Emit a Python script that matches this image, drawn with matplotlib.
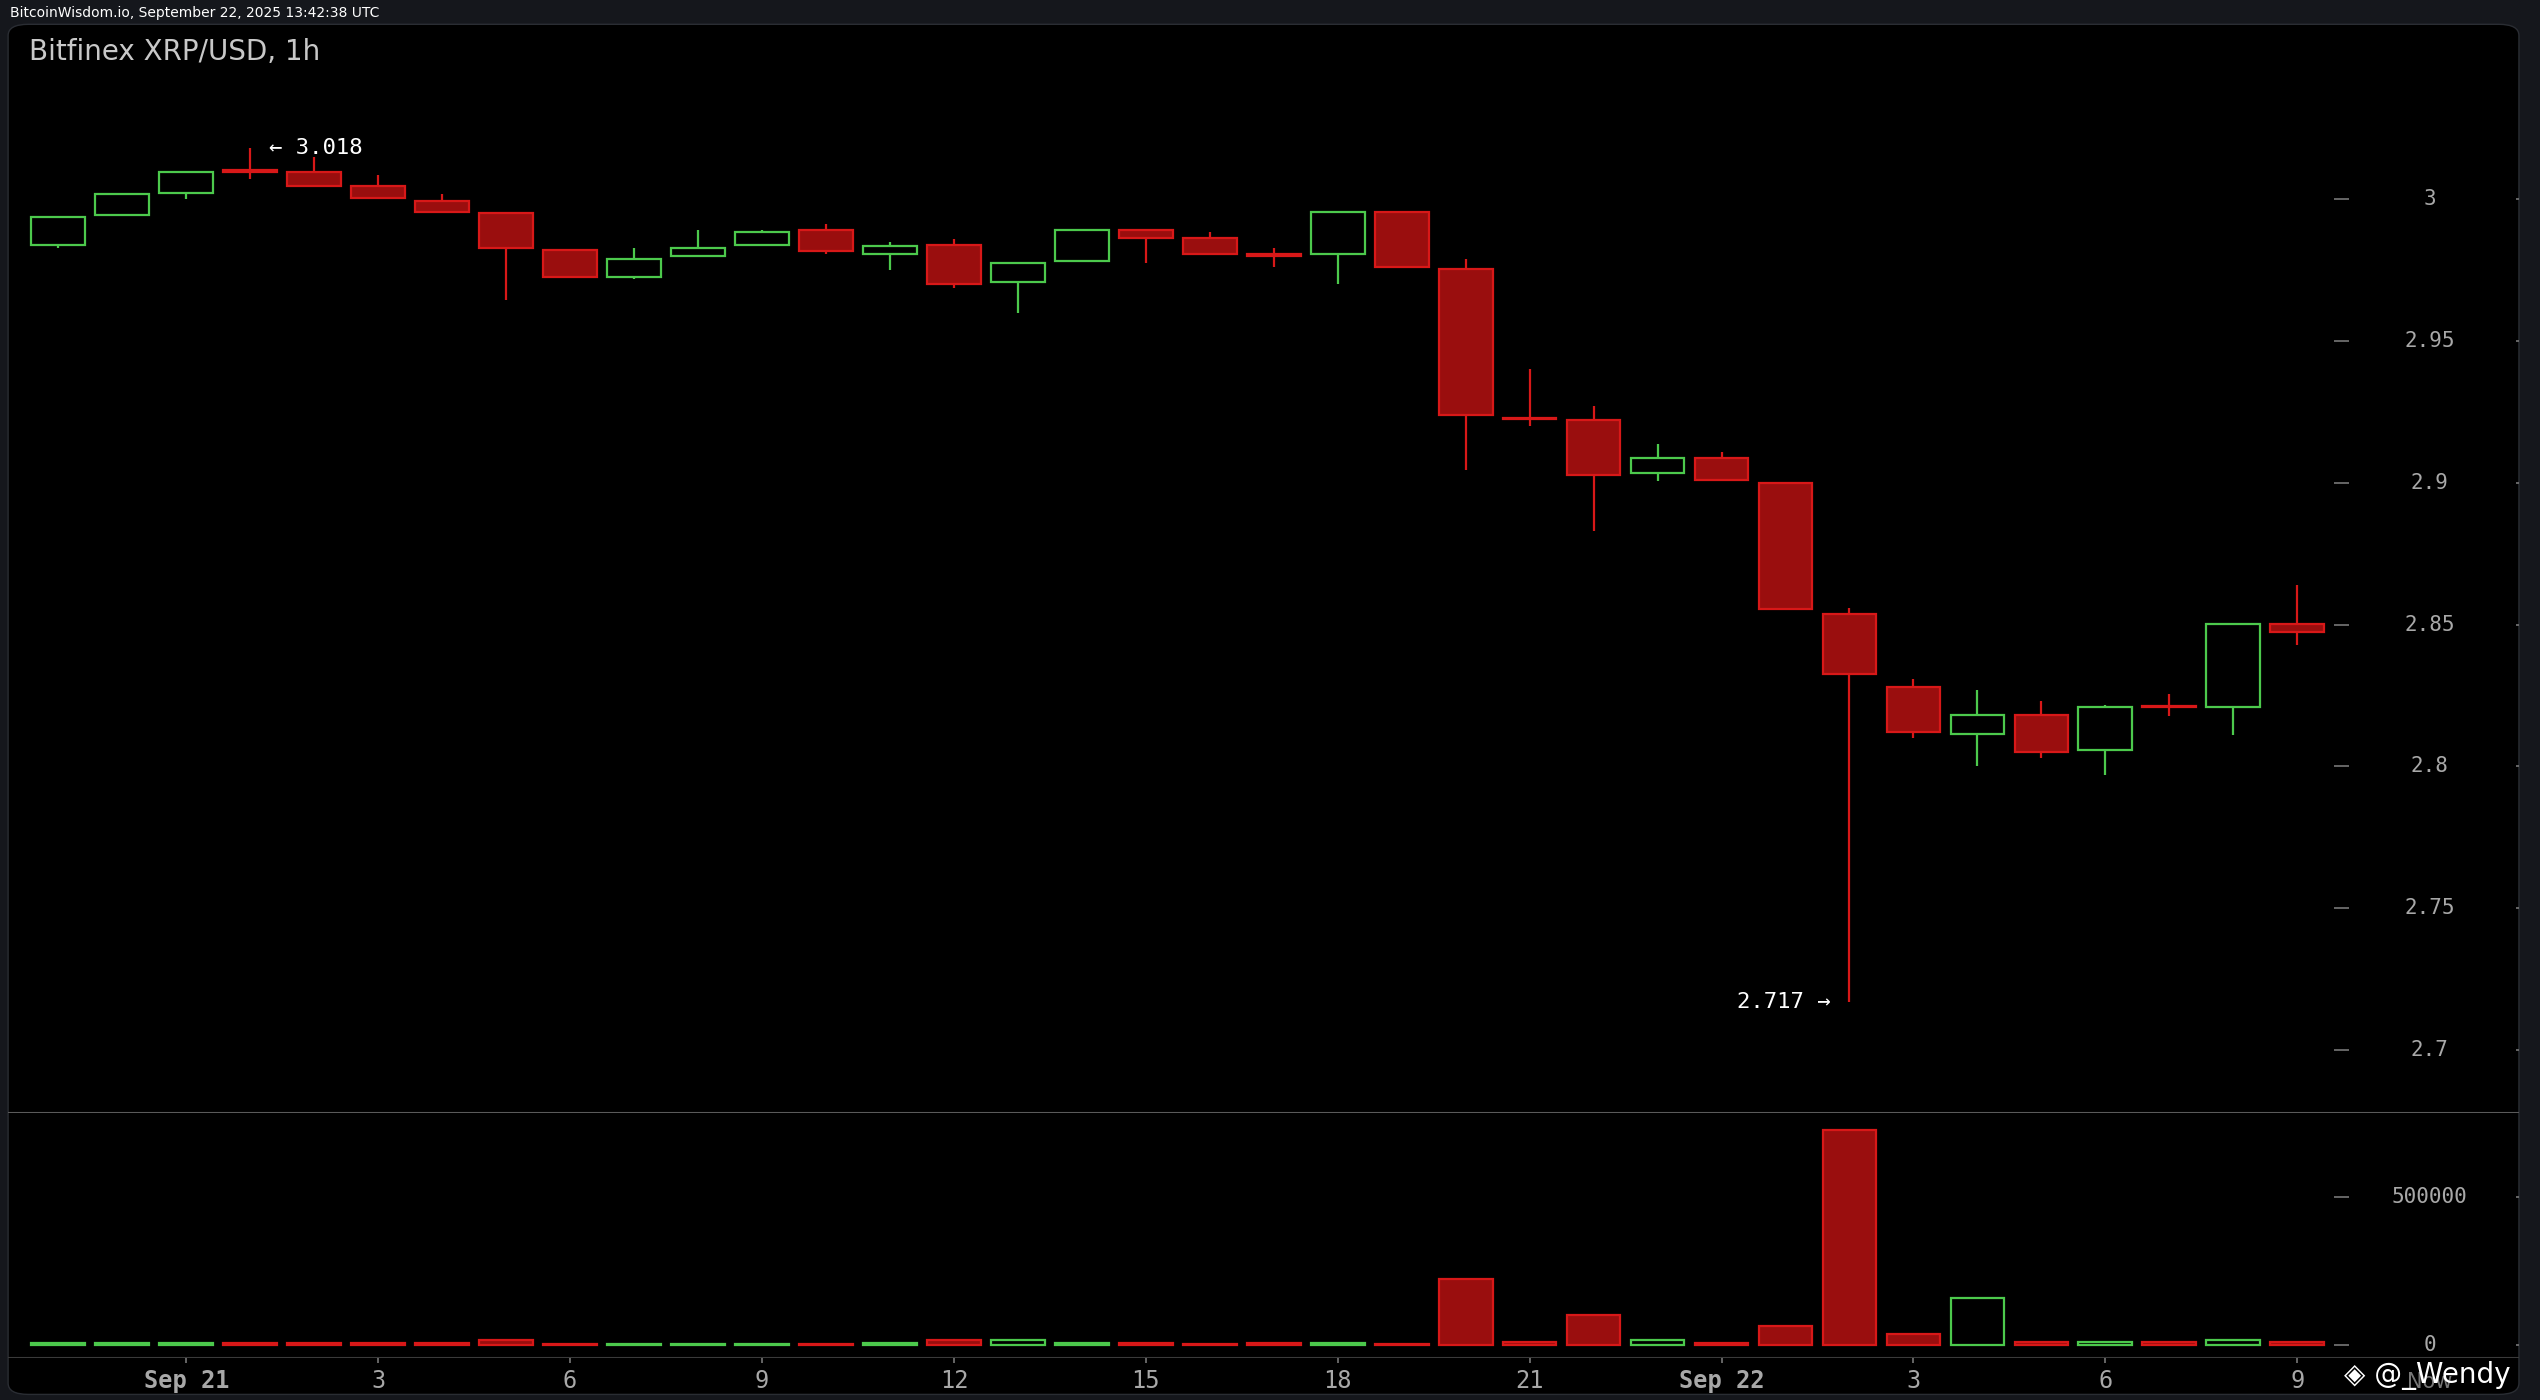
import matplotlib
matplotlib.use("Agg")
import matplotlib.pyplot as plt
from matplotlib.patches import FancyBboxPatch, Rectangle

# hourly candles, Sep 20 22:00 -> Sep 22 09:00
opens  = [2.984, 2.9943, 3.0023, 3.010, 3.0097, 3.0046, 2.9994, 2.995, 2.982, 2.9726,
          2.980, 2.984, 2.989, 2.9806, 2.984, 2.9709, 2.9783, 2.989, 2.9863, 2.9806,
          2.9806, 2.9954, 2.9754, 2.923, 2.9223, 2.9034, 2.9086, 2.900, 2.8537, 2.828,
          2.8114, 2.8183, 2.8057, 2.8211, 2.821, 2.8503]
closes = [2.9937, 3.0017, 3.0097, 3.0098, 3.0046, 3.0006, 2.9954, 2.983, 2.9726, 2.9789,
          2.983, 2.9886, 2.9817, 2.9834, 2.970, 2.9777, 2.989, 2.9863, 2.9806, 2.980,
          2.9954, 2.976, 2.924, 2.9226, 2.9029, 2.9086, 2.9011, 2.8554, 2.8326, 2.812,
          2.8183, 2.805, 2.8211, 2.8209, 2.8503, 2.8474]
highs  = [2.9937, 3.002, 3.0097, 3.018, 3.0149, 3.0086, 3.002, 2.995, 2.982, 2.983,
          2.989, 2.9892, 2.9914, 2.985, 2.986, 2.9777, 2.989, 2.989, 2.9886, 2.9829,
          2.9954, 2.9954, 2.9789, 2.940, 2.927, 2.9137, 2.911, 2.900, 2.856, 2.831,
          2.827, 2.823, 2.8217, 2.8257, 2.8503, 2.864]
lows   = [2.983, 2.994, 3.000, 3.007, 3.0097, 3.0046, 2.9954, 2.9646, 2.9726, 2.9720,
          2.980, 2.984, 2.9806, 2.975, 2.9686, 2.960, 2.9783, 2.9777, 2.9806, 2.9760,
          2.9703, 2.976, 2.9046, 2.920, 2.883, 2.9006, 2.9011, 2.8554, 2.717, 2.810,
          2.800, 2.803, 2.797, 2.8177, 2.811, 2.843]
volumes = [5000, 5000, 5000, 8000, 8000, 8000, 8000, 18000, 4000, 4000,
           4000, 4000, 3000, 8000, 15000, 18000, 8000, 6000, 4000, 6000,
           6000, 4000, 225000, 10000, 100000, 15000, 5000, 65000, 730000, 38000,
           160000, 10000, 10000, 10000, 15000, 10000]

x_tick_pos = [2, 5, 8, 11, 14, 17, 20, 23, 26, 29, 32, 35]
x_tick_labels = ["Sep 21", "3", "6", "9", "12", "15", "18", "21", "Sep 22", "3", "6", "9"]
price_ticks = [2.7, 2.75, 2.8, 2.85, 2.9, 2.95, 3.0]
price_labels = ["2.7", "2.75", "2.8", "2.85", "2.9", "2.95", "3"]
vol_ticks = [0, 500000]

RED_EDGE = "#d81818"
RED_FILL = "#9a0e0e"
GREEN = "#4cc94c"
TXT = "#a8a8a8"

W, H = 1568.0, 864.0
STEP = 39.49
fig = plt.figure(figsize=(25.4, 14.0), dpi=100)
fig.patch.set_facecolor("#15171c")
fig.patches.append(FancyBboxPatch((5 / W, 0.004), 1550 / W, 1 - 15 / H - 0.004,
                                  boxstyle="round,pad=0,rounding_size=0.008",
                                  transform=fig.transFigure, facecolor="black",
                                  edgecolor="#2a2d33", lw=1, zorder=-10))
fig.text(6 / W, 1 - 8 / H, "BitcoinWisdom.io, September 22, 2025 13:42:38 UTC",
         color="white", fontsize=10, va="center", family="Liberation Sans Narrow")

x0, x1 = (5 - 36) / STEP, (1555 - 36) / STEP
axp = fig.add_axes([5 / W, 1 - 687 / H, 1550 / W, 672 / H])
axv = fig.add_axes([5 / W, 1 - 838 / H, 1550 / W, 151 / H])
for ax in (axp, axv):
    ax.set_facecolor("none")
    ax.set_xlim(x0, x1)
    ax.set_xticks([])
    ax.set_yticks([])
    for s in ax.spines.values():
        s.set_visible(False)
axp.set_ylim(3.0 - (687 - 123) / 1750, 3.0 + 108 / 1750)
axv.set_ylim(-8 * 5494, 500000 + 52 * 5494)
axp.axhline(axp.get_ylim()[0], color="#5a5a5a", lw=1.5)
axv.axhline(axv.get_ylim()[0], color="#3a3a3a", lw=1.5)

bw = 0.84
for i, (o, c, h, l, v) in enumerate(zip(opens, closes, highs, lows, volumes)):
    up = c > o
    ec = GREEN if up else RED_EDGE
    fc = "black" if up else RED_FILL
    bot, top = min(o, c), max(o, c)
    axp.vlines(i, l, bot, color=ec, lw=1.6, zorder=2)
    axp.vlines(i, top, h, color=ec, lw=1.6, zorder=2)
    axp.add_patch(Rectangle((i - bw / 2, bot), bw, max(top - bot, 0.0004),
                            facecolor=fc, edgecolor=ec, lw=1.6, zorder=3))
    axv.add_patch(Rectangle((i - bw / 2, 0), bw, v, facecolor=fc, edgecolor=ec,
                            lw=1.6, zorder=3))

# right scale (pixel-ish positions converted to data x)
tl0, tl1 = (1441 - 36) / STEP, (1450 - 36) / STEP
tr0, tr1 = (1553 - 36) / STEP, x1
lab_x = (1500 - 36) / STEP
for t, lab in zip(price_ticks, price_labels):
    axp.hlines(t, tl0, tl1, color="#777777", lw=1.2)
    axp.hlines(t, tr0, tr1, color="#777777", lw=1.2)
    axp.text(lab_x, t, lab, color=TXT, fontsize=15, ha="center", va="center",
             family="DejaVu Sans Mono")
for t in vol_ticks:
    axv.hlines(t, tl0, tl1, color="#777777", lw=1.2)
    axv.hlines(t, tr0, tr1, color="#777777", lw=1.2)
    axv.text(lab_x, t, str(t), color=TXT, fontsize=15, ha="center", va="center",
             family="DejaVu Sans Mono")

# time axis labels
for p, lab in zip(x_tick_pos, x_tick_labels):
    axv.vlines(p, axv.get_ylim()[0], axv.get_ylim()[0] - 3 * 5494, color="#777777",
               lw=1.2, clip_on=False)
    axv.text(p, axv.get_ylim()[0] - 14 * 5494, lab, color=TXT, fontsize=17,
             ha="center", va="center", family="DejaVu Sans Mono",
             weight="bold" if lab.startswith("Sep") else "normal", clip_on=False)
axv.text(lab_x, axv.get_ylim()[0] - 15 * 5494, "Now", color="#777777", fontsize=15,
         ha="center", va="center", clip_on=False)
fig.text(1550 / W, 1 - 849 / H, "◈ @_Wendy", color="white", fontsize=20,
         ha="right", va="center")

# extremes
axp.text(3.3, highs[3], "← 3.018", color="white", fontsize=16, va="center",
         family="DejaVu Sans Mono")
axp.text(27.7, lows[28], "2.717 →", color="white", fontsize=16, va="center",
         ha="right", family="DejaVu Sans Mono")
fig.text(18 / W, 1 - 32 / H, "Bitfinex XRP/USD, 1h", color="#c8c8c8",
         fontsize=20, va="center")

fig.savefig("out.png", dpi=100, facecolor=fig.get_facecolor())
